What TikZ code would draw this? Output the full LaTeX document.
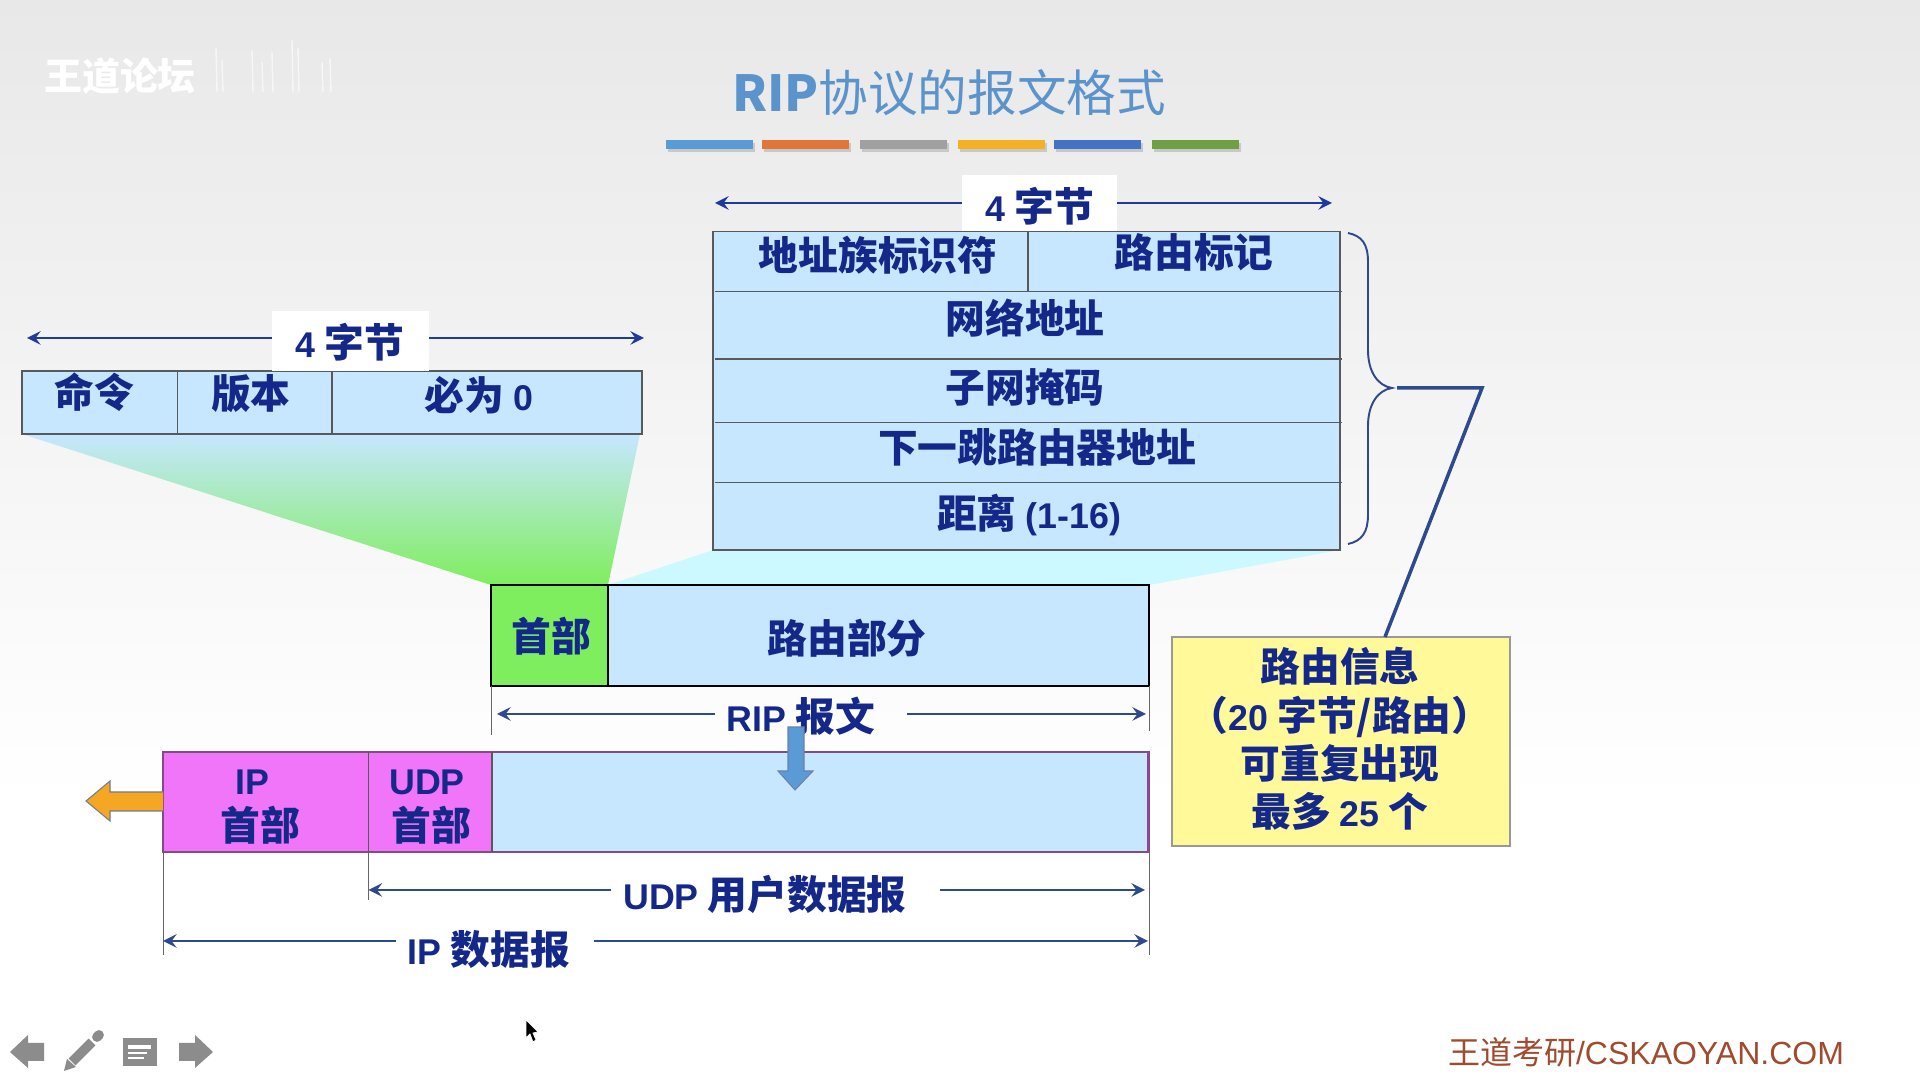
\documentclass[tikz,border=0pt]{standalone}
\usepackage{fontspec}
\setmainfont{Noto Sans CJK SC}
\newfontfamily\lat[Scale=0.9]{Liberation Sans}
\newfontfamily\footlat{Liberation Sans}
\usetikzlibrary{shapes, backgrounds}

\definecolor{navy}{HTML}{14288A}
\definecolor{dimblue}{HTML}{1F3A9E}
\definecolor{cell}{HTML}{C6E7FF}
\definecolor{hdgreen}{HTML}{7FEE5E}
\definecolor{hdpink}{HTML}{F075F8}
\definecolor{note}{HTML}{FFF99A}
\definecolor{brc}{HTML}{2E4A8E}
\definecolor{icon}{HTML}{8C8C8C}
\definecolor{titleblue}{HTML}{5B94CC}
\definecolor{fancyan}{HTML}{CCF8FF}
\definecolor{fanmid}{HTML}{C4F6E8}
\definecolor{footred}{HTML}{A04A2E}
\definecolor{orangearrow}{HTML}{F5A623}
\definecolor{bluearrow}{HTML}{5B9BD5}

\tikzset{
  lbl/.style={font=\bfseries\fontsize{11.3}{13.7}\selectfont,text=navy,inner sep=0pt},
  dim/.style={draw=dimblue,line width=0.7pt,>=stealth},
  tick/.style={draw=black!60,line width=0.25pt},
  box/.style={draw=black!65,line width=0.35pt},
  sep/.style={draw=black!65,line width=0.3pt},
  whitebox/.style={fill=white,draw=none}
}

\begin{document}
\begin{tikzpicture}[x=0.01cm,y=-0.01cm]

\useasboundingbox (0,0) rectangle (1920,1080);

\fill[white] (0,0) rectangle (1920,1080);
\shade[top color=black!9,bottom color=white] (0,0) rectangle (1920,800);

\node[font=\bfseries\fontsize{10.8}{13}\selectfont,text=white,inner sep=0pt] (mark) at (120,76) {王道论坛};
\foreach \xa/\ya in {216/48,222/60,252/50,262/62,272/52,292/40,298/48,322/62,330/58}
  \draw[white,line width=0.4pt,opacity=0.6] (\xa,\ya) -- (\xa+1,92);

\node[font=\fontsize{14.1}{17}\selectfont,text=titleblue,inner sep=0pt] (title) at (949,93) {{\bfseries RIP}协议的报文格式};

% colour bars
\foreach \xa/\xb/\cc in {666/753/5B9BD5,762/849/E0763A,860/947/A0A0A0,958/1045/F5B025,1054/1141/4472C4,1152/1239/70A044}{
  \definecolor{barc}{HTML}{\cc}
  \fill[black,opacity=0.15] (\xa+2,143) rectangle (\xb+2,152);
  \fill[barc] (\xa,140) rectangle (\xb,149);
}

% fans
\shade[top color=cell,middle color=fanmid,bottom color=hdgreen] (22,434) -- (640,434) -- (608,585) -- (491,585) -- cycle;
\fill[fancyan] (713,550) -- (1340,550) -- (1149,585) -- (608,585) -- cycle;

% left table
\fill[cell] (22,371) rectangle (642,434);
\draw[box] (22,371) rectangle (642,434);
\draw[sep] (177.5,371) -- (177.5,434);
\draw[sep] (332,371) -- (332,434);
\node[lbl] (cmd) at (94,392) {命令};
\node[lbl] (ver) at (251,394) {版本};
\node[lbl] (zero) at (479,395) {必为 {\lat 0}};

\coordinate (la) at (27,338);
\coordinate (lb) at (644,338);
\coordinate (lc) at (272,338);
\coordinate (ld) at (429,338);
\fill[whitebox] (272,311) rectangle (429,371);
\draw[dim,->] (lc) -- (la);
\draw[dim,->] (ld) -- (lb);
\node[lbl] (lfour) at (350,342) {{\lat 4} 字节};

% right table
\fill[cell] (713,231.5) rectangle (1340,550);
\draw[box] (713,231.5) rectangle (1340,550);
\draw[sep] (1028,231.5) -- (1028,291.5);
\foreach \yy in {291.5,359,422.5,482.5}
  \draw[sep] (715,\yy) -- (1342,\yy);
\node[lbl] (fam) at (878,255) {地址族标识符};
\node[lbl] (tag) at (1194,252) {路由标记};
\node[lbl] (net) at (1025,318) {网络地址};
\node[lbl] (mask) at (1025,387) {子网掩码};
\node[lbl] (hop) at (1037,447) {下一跳路由器地址};
\node[lbl] (dist) at (1029,515) {距离 {\lat (1-16)}};

\coordinate (ra) at (715,203);
\coordinate (rb) at (1332,203);
\coordinate (rc) at (962,203);
\coordinate (rd) at (1117,203);
\fill[whitebox] (962,175) rectangle (1117,231);
\draw[dim,->] (rc) -- (ra);
\draw[dim,->] (rd) -- (rb);
\node[lbl] (rfour) at (1040,206) {{\lat 4} 字节};

% brace
\draw[brc,line width=0.55pt] (1348,233) .. controls (1362,236) and (1368,244) .. (1368,262)
  -- (1368,350) .. controls (1368,372) and (1378,386) .. (1392,388)
  .. controls (1378,390) and (1368,404) .. (1368,426)
  -- (1368,515) .. controls (1368,532) and (1362,541) .. (1348,544);

% note
\fill[note] (1172,637) rectangle (1510,846);
\draw[box,draw=black!40] (1172,637) rectangle (1510,846);
\node[lbl,align=center] (info) at (1340,739) {路由信息\\（{\lat 20} 字节/路由）\\可重复出现\\最多 {\lat 25} 个};
\coordinate (bra) at (1397,388);
\coordinate (brb) at (1482,388);
\coordinate (infotop) at (1385,637);
\draw[brc,line width=1pt] (bra) -- (brb) -- (infotop);

% rip message
\fill[hdgreen] (491,585) rectangle (608,686);
\fill[cell] (608,585) rectangle (1149,686);
\draw[black,line width=0.7pt] (491,585) rectangle (1149,686);
\draw[black,line width=0.7pt] (608,585) -- (608,686);
\node[lbl] (ripa) at (551,636) {首部};
\node[lbl] (ripb) at (847,638) {路由部分};

\draw[tick] (491,686) -- (491,735);
\draw[tick] (1149,686) -- (1149,731);
\coordinate (ripl) at (497,714);
\coordinate (ripr) at (1146,714);
\coordinate (ripc) at (715,714);
\coordinate (ripd) at (907,714);
\draw[dim,draw=brc,->] (ripc) -- (ripl);
\draw[dim,draw=brc,->] (ripd) -- (ripr);
\node[lbl] (riptxt) at (801,716) {{\lat RIP} 报文};

% udp and ip
\fill[hdpink] (163,752) rectangle (492,852);
\fill[cell] (492,752) rectangle (1149,852);
\draw[box,draw=violet!60!black!70] (163,752) rectangle (1149,852);
\draw[sep] (368.5,752) -- (368.5,852);
\draw[sep] (492,752) -- (492,852);
\draw[hdpink!60!black,line width=0.4pt] (1148,752) -- (1148,852);
\node[lbl] (ipa) at (252,782) {\lat IP};
\node[lbl] (ipb) at (260,825) {首部};
\node[lbl] (udpa) at (427,782) {\lat UDP};
\node[lbl] (udpb) at (431,825) {首部};

% block arrows
\draw[fill=orangearrow,draw=brc!50!black!60,line width=0.3pt] (163,792) -- (110,792) -- (110,781) -- (86,801) -- (110,821) -- (110,811) -- (163,811);
\draw[fill=bluearrow,draw=brc!70,line width=0.3pt] (788,727) -- (804,727) -- (804,771) -- (813,771) -- (795,790) -- (778,771) -- (788,771) -- cycle;

\draw[tick] (368.5,852) -- (368.5,900);
\coordinate (udpl) at (368.5,890);
\coordinate (udpr) at (1145,890);
\coordinate (udpc) at (611,890);
\coordinate (udpd) at (940,890);
\draw[dim,draw=brc,->] (udpc) -- (udpl);
\draw[dim,draw=brc,->] (udpd) -- (udpr);
\node[lbl] (udptxt) at (765,894) {{\lat UDP} 用户数据报};

\draw[tick] (163,852) -- (163,955);
\draw[tick] (1149,852) -- (1149,955);
\coordinate (ipl) at (163,941);
\coordinate (ipr) at (1148,941);
\coordinate (ipc) at (396,941);
\coordinate (ipd) at (594,941);
\draw[dim,draw=brc,->] (ipc) -- (ipl);
\draw[dim,draw=brc,->] (ipd) -- (ipr);
\node[lbl] (iptxt) at (489,950) {{\lat IP} 数据报};

% player icons
\fill[icon] (10,1052) -- (28,1035) -- (28,1043) -- (44,1043) -- (44,1061) -- (28,1061) -- (28,1068) -- cycle;
\fill[icon] (179,1043) -- (195,1043) -- (195,1035) -- (213,1052) -- (195,1068) -- (195,1061) -- (179,1061) -- cycle;
\fill[icon] (64,1071) -- (67,1059) -- (76,1067) -- cycle;
\draw[icon,line width=2.8pt] (72,1062) -- (92,1042);
\draw[icon,line width=2.8pt,line cap=round] (97,1037) -- (99,1035);
\fill[icon] (123,1038) rectangle (157,1066);
\fill[white] (128,1045) rectangle (151,1049);
\fill[white] (128,1052) rectangle (147,1054);
\fill[white] (128,1057) rectangle (144,1059);

% cursor
\draw[fill=black,draw=white,line width=0.2pt] (526,1020) -- (526,1038) -- (530,1034) -- (533,1042) -- (536,1040) -- (533,1033) -- (538,1032) -- cycle;

\node[font=\fontsize{9.1}{11}\selectfont,text=footred,inner sep=0pt] (site) at (1646,1052) {王道考研{\footlat /CSKAOYAN.COM}};

\end{tikzpicture}
\end{document}
